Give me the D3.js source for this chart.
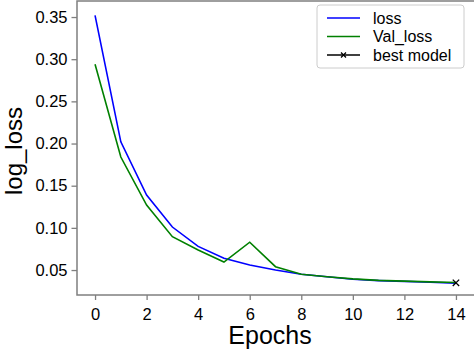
<!DOCTYPE html>
<html><head><meta charset="utf-8">
<script src="https://cdn.jsdelivr.net/npm/d3@7"></script>
<style>body{margin:0;background:#fff}svg{display:block}text{font-family:"Liberation Sans",Arial,sans-serif}</style>
</head><body>
<svg id="c" width="474" height="352"></svg>
<script>
const epochs = [0,1,2,3,4,5,6,7,8,9,10,11,12,13,14];
const loss = [0.352,0.202,0.139,0.101,0.078,0.064,0.056,0.050,0.045,0.042,0.039,0.0375,0.0365,0.0355,0.0345];
const valLoss = [0.294,0.184,0.127,0.0895,0.0737,0.0595,0.083,0.054,0.045,0.042,0.0395,0.0378,0.0368,0.036,0.0352];
const bestEpoch = [14];
const bestValue = [0.0348];
const xTicks = [0,2,4,6,8,10,12,14];
const yTicks = [0.05,0.10,0.15,0.20,0.25,0.30,0.35];
const legendLabels = ["loss","Val_loss","best model"];

const svg = d3.select("#c");
const L = 77, R = 474, T = 0.5, B = 295;
const x = d3.scaleLinear().domain([-0.7,14.7]).range([L,R]);
const y = d3.scaleLinear().domain([0.0204,0.3696]).range([B,T]);
const spine = "#7f7f7f";

// axes
const xa = svg.append("g").attr("transform",`translate(0,${B})`)
  .call(d3.axisBottom(x).tickValues(xTicks).tickSize(5).tickPadding(8).tickFormat(d3.format("d")));
const ya = svg.append("g").attr("transform",`translate(${L},0)`)
  .call(d3.axisLeft(y).tickValues(yTicks).tickSize(5.5).tickPadding(4).tickFormat(d3.format(".2f")));
[xa,ya].forEach(g=>{
  g.select(".domain").remove();
  g.selectAll("line").attr("stroke",spine).attr("stroke-width",1.3);
  g.selectAll("text").attr("font-size",16.5).attr("fill","#000").attr("font-family","'Liberation Sans',Arial,sans-serif");
});
// spines
svg.append("rect").attr("x",L).attr("y",T+0.5).attr("width",R-L+2).attr("height",B-T-0.5)
  .attr("fill","none").attr("stroke",spine).attr("stroke-width",1.5);

const line = d3.line().x((d,i)=>x(epochs[i])).y(d=>y(d));
svg.append("path").datum(loss).attr("d",line).attr("fill","none").attr("stroke","#0000ff").attr("stroke-width",1.6);
svg.append("path").datum(valLoss).attr("d",line).attr("fill","none").attr("stroke","#008000").attr("stroke-width",1.6);

function xMark(g,cx,cy,s){
  g.append("path").attr("d",`M${cx-s},${cy-s}L${cx+s},${cy+s}M${cx-s},${cy+s}L${cx+s},${cy-s}`)
   .attr("stroke","#000").attr("stroke-width",1.3).attr("fill","none");
}
bestEpoch.forEach((e,i)=>xMark(svg,x(e),y(bestValue[i]),3.2));

// labels
svg.append("text").attr("x",270).attr("y",344).attr("text-anchor","middle").attr("font-size",25).text("Epochs");
svg.append("text").attr("transform","translate(22,151) rotate(-90)").attr("text-anchor","middle").attr("font-size",24).text("log_loss");

// legend
const lg = svg.append("g");
lg.append("rect").attr("x",317).attr("y",5).attr("width",147).attr("height",63).attr("rx",3)
  .attr("fill","#fff").attr("fill-opacity",0.8).attr("stroke","#cccccc").attr("stroke-width",1);
const colors = ["#0000ff","#008000","#000"];
legendLabels.forEach((t,i)=>{
  const ly = 18 + i*18.5;
  lg.append("line").attr("x1",327).attr("x2",360).attr("y1",ly).attr("y2",ly).attr("stroke",colors[i]).attr("stroke-width",1.6);
  if(i===2) xMark(lg,343.5,ly,2.5);
  lg.append("text").attr("x",373).attr("y",ly+5.5).attr("font-size",16).text(t);
});
</script>
</body></html>
